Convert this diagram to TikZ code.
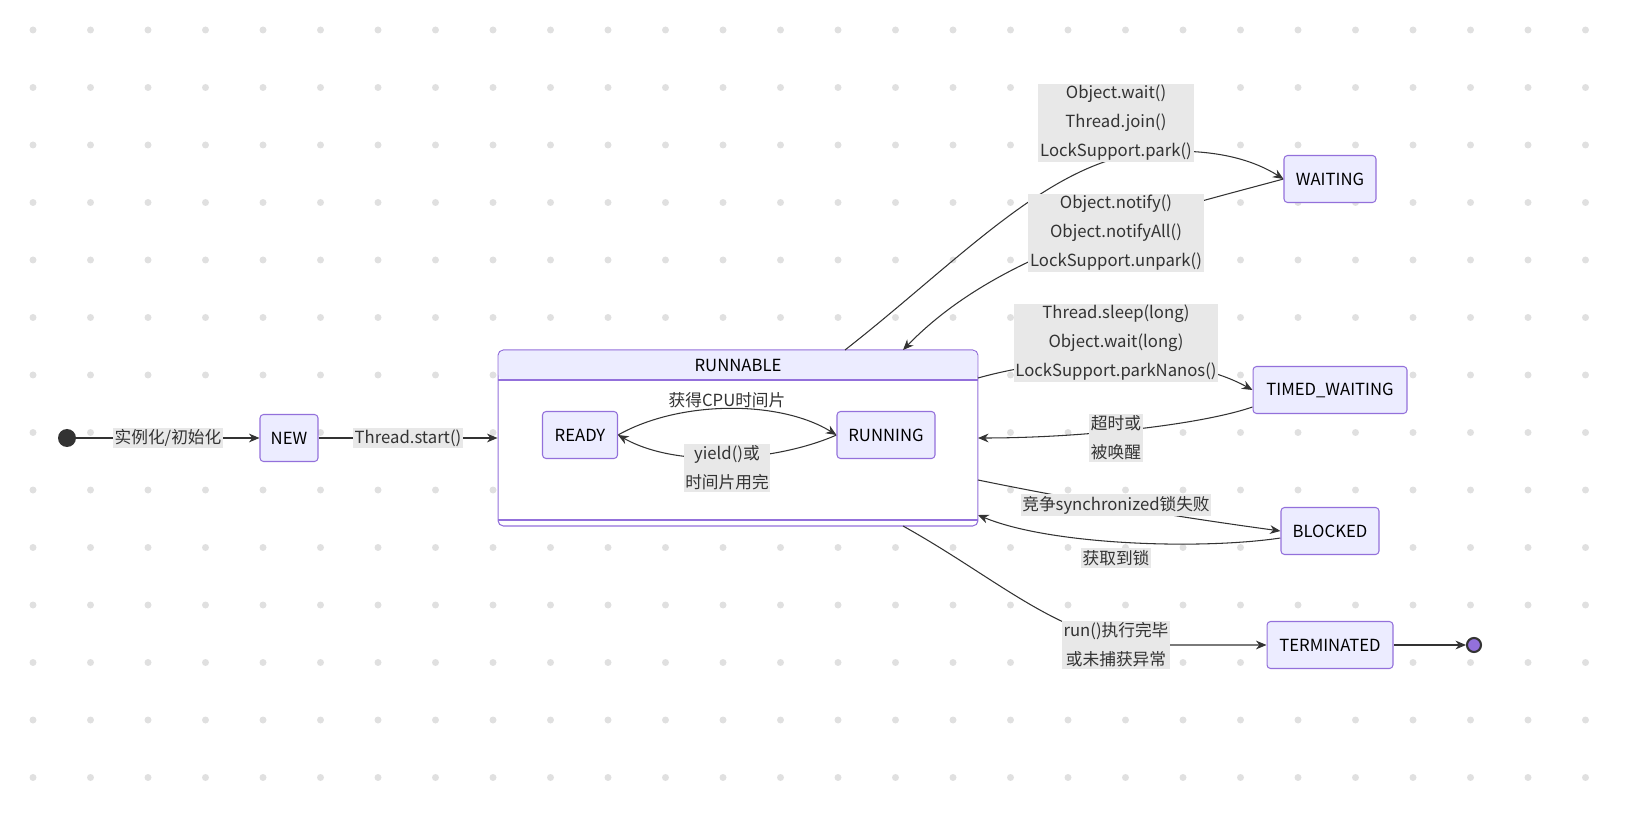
\documentclass[tikz,border=0pt]{standalone}
\usepackage{fontspec}
\setmainfont{Noto Sans CJK SC}
\usetikzlibrary{arrows.meta,backgrounds,positioning}
\pgfdeclarelayer{grid}
\pgfdeclarelayer{box}
\pgfdeclarelayer{edges}
\pgfsetlayers{grid,box,edges,main}
\definecolor{boxfill}{HTML}{ECECFF}
\definecolor{boxline}{HTML}{9370DB}
\definecolor{lblfill}{HTML}{E8E8E8}
\definecolor{edgecol}{HTML}{333333}
\tikzset{
  state/.style = {draw=boxline, fill=boxfill, rounded corners=2pt, line width=0.6pt,
                  minimum height=0.94cm, inner xsep=5pt, font=\fontsize{9.5}{11}\selectfont},
  lbl/.style   = {fill=lblfill, inner sep=1pt, align=center,
                  font=\fontsize{9.5}{16.5}\selectfont, text=edgecol},
  line/.style  = {draw=edgecol, line width=0.6pt, -{Stealth[length=6pt,width=5pt]}},
  gdot/.style  = {fill=black!12, draw=none}
}
\begin{document}
\begin{tikzpicture}[x=0.02cm, y=0.02cm]
  \useasboundingbox (0,0) rectangle (1633,-817);
  % Place nodes
  \fill[edgecol] (67,-438) circle (9) coordinate (start);
  \node [state, minimum width=1.16cm] (new) at (289,-438) {NEW};
  \begin{pgfonlayer}{box}
    \node [draw=boxline, fill=white, rounded corners=3pt, line width=0.6pt,
           minimum width=9.6cm, minimum height=3.52cm] (runnable) at (738,-438) {};
    \fill [boxfill, rounded corners=3pt] (498.6,-380) -- (498.6,-350.6) -- (977.4,-350.6) -- (977.4,-380) -- cycle;
    \draw [boxline, line width=0.6pt] (498,-380) -- (978,-380);
    \draw [boxline, line width=0.6pt] (498,-520) -- (978,-520);
  \end{pgfonlayer}
  \node [font=\fontsize{9.5}{11}\selectfont] at (738,-365) {RUNNABLE};
  \node [state, minimum width=1.5cm] (ready) at (580,-435) {READY};
  \node [state, minimum width=1.96cm] (running) at (886,-435) {RUNNING};
  \node [state, minimum width=1.84cm] (waiting) at (1330,-179) {WAITING};
  \node [state, minimum width=3.08cm] (timed) at (1330,-390) {TIMED\_WAITING};
  \node [state, minimum width=1.96cm] (blocked) at (1330,-531) {BLOCKED};
  \node [state, minimum width=2.52cm] (term) at (1330,-645) {TERMINATED};
  \draw [edgecol, line width=1.2pt, fill=boxline] (1474,-645) circle (7);
  \fill [boxline] (1474,-645) circle (4);
  \coordinate (end) at (1466,-645);

  % Labels
  \node [lbl] (l1) at (168,-438) {实例化/初始化};
  \node [lbl] (l2) at (408,-438) {Thread.start()};
  \node [lbl, fill=none] (l3) at (727,-400) {获得CPU时间片};
  \node [lbl] (l4) at (727,-468) {yield()或\\时间片用完};
  \node [lbl] (l5) at (1116,-123) {Object.wait()\\Thread.join()\\LockSupport.park()};
  \node [lbl] (l6) at (1116,-233) {Object.notify()\\Object.notifyAll()\\LockSupport.unpark()};
  \node [lbl] (l7) at (1116,-343) {Thread.sleep(long)\\Object.wait(long)\\LockSupport.parkNanos()};
  \node [lbl] (l8) at (1116,-438) {超时或\\被唤醒};
  \node [lbl] (l9) at (1116,-505) {竞争synchronized锁失败};
  \node [lbl] (l10) at (1116,-558) {获取到锁};
  \node [lbl] (l11) at (1116,-645) {run()执行完毕\\或未捕获异常};

  % grid behind
  \begin{pgfonlayer}{grid}
    \foreach \i in {0,...,27} {
      \foreach \j in {0,...,13} {
        \fill [gdot] (33+57.5*\i,-30-57.5*\j) circle (3.5);
      }
    }
  \end{pgfonlayer}
  % edges
  \begin{pgfonlayer}{edges}
    \path [line] (start) -- (new.west);
    \path [line] (new.east) -- (runnable.west);
    \path [line] (ready.east) .. controls (680,-400) and (780,-400) .. (running.west);
    \path [line] (running.west) .. controls (780,-460) and (680,-470) .. (ready.east);
    \path [line] (845,-350) .. controls (960,-260) and (1050,-160) .. (1150,-152)
                 .. controls (1210,-148) and (1250,-158) .. (waiting.west);
    \path [line] (waiting.west) .. controls (1150,-215) and (1000,-250) .. (903,-350);
    \path [line] (978,-378) .. controls (1060,-355) and (1180,-350) .. (timed.west);
    \path [line] (timed.west |- 0,-407) .. controls (1200,-425) and (1080,-438) .. (978,-438);
    \path [line] (978,-480) .. controls (1100,-505) and (1200,-520) .. (blocked.west);
    \path [line] (blocked.west |- 0,-538) .. controls (1200,-550) and (1050,-545) .. (978,-515);
    \path [line] (903,-526) .. controls (1000,-580) and (1060,-640) .. (1150,-645)
                 -- (term.west);
    \path [line] (term.east) -- (end);
  \end{pgfonlayer}
\end{tikzpicture}
\end{document}
